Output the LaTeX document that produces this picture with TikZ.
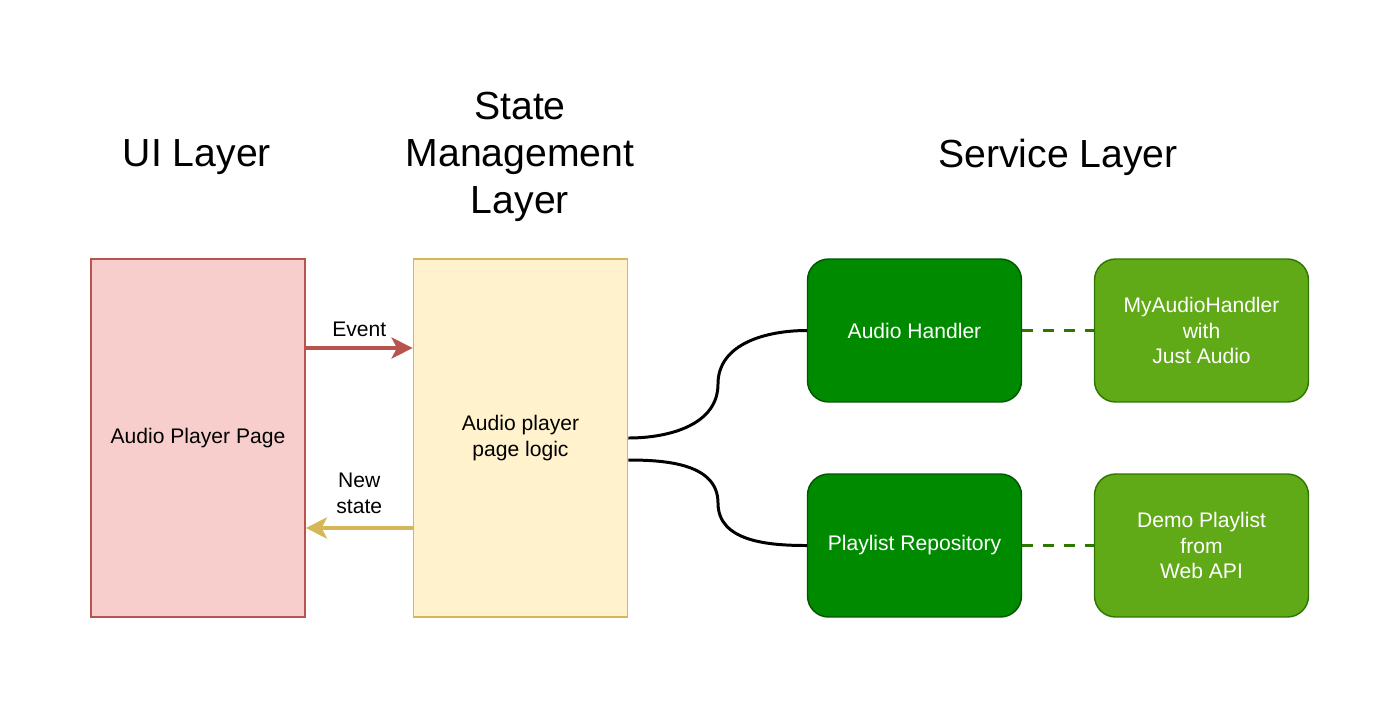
\documentclass[tikz,border=0pt]{standalone}
\usepackage{fontspec}
\setmainfont{Liberation Sans}
\usetikzlibrary{arrows.meta}
\definecolor{uifill}{HTML}{F8CECC}
\definecolor{uiline}{HTML}{B85450}
\definecolor{smfill}{HTML}{FFF2CC}
\definecolor{smline}{HTML}{D6B656}
\definecolor{svfill}{HTML}{008A00}
\definecolor{svline}{HTML}{005700}
\definecolor{impfill}{HTML}{60A917}
\definecolor{impline}{HTML}{2D7600}
\tikzset{
	layerbox/.style={draw, line width=1pt, minimum width=4.28cm, minimum height=7.16cm, align=center, font=\fontsize{12}{14.7}\selectfont},
	servicebox/.style={draw=svline, fill=svfill, text=white, rounded corners=0.42cm, line width=0.8pt, minimum width=4.28cm, minimum height=2.86cm, align=center, font=\fontsize{12}{14.7}\selectfont},
	implbox/.style={servicebox, draw=impline, fill=impfill},
	title/.style={align=center, font=\fontsize{22.3}{26.6}\selectfont},
	tag/.style={align=center, font=\fontsize{12}{14.7}\selectfont},
	flow/.style={-{Stealth[length=12pt,width=12pt,inset=3pt]}, line width=2pt},
	link/.style={line width=1.7pt}
}
\begin{document}
\begin{tikzpicture}[x=0.02cm, y=-0.02cm]
	\useasboundingbox (0,0) rectangle (1400,708);
	% layer titles
	\node[title] (uititle) at (197,157) {UI Layer};
	\node[title] (smtitle) at (520,157) {State\\Management\\Layer};
	\node[title] (svtitle) at (1058,157) {Service Layer};
	% boxes
	\node[layerbox, draw=uiline, fill=uifill] (page) at (198,438) {Audio Player Page};
	\node[layerbox, draw=smline, fill=smfill] (logic) at (520.5,438) {Audio player\\page logic};
	\node[servicebox] (handler) at (914.5,330.5) {Audio Handler};
	\node[implbox] (myhandler) at (1201.5,330.5) {MyAudioHandler\\with\\Just Audio};
	\node[servicebox] (repo) at (914.5,545.5) {Playlist Repository};
	\node[implbox] (demo) at (1201.5,545.5) {Demo Playlist\\from\\Web API};
	% event / state arrows
	\draw[flow, draw=uiline, fill=uiline] (page.east |- 0,348) -- (logic.west |- 0,348) node[tag, midway, above=2pt, text=black] (eventlbl) {Event};
	\draw[flow, draw=smline, fill=smline] (logic.west |- 0,528) -- (page.east |- 0,528) node[tag, midway, above=4pt, text=black] (statelbl) {New\\state};
	% connectors to the services
	\coordinate (logicup) at (logic.east |- 0,438);
	\coordinate (logicdown) at (logic.east |- 0,460);
	\coordinate (midup) at (718,384);
	\coordinate (middown) at (718,503);
	\draw[link] (logicup) to[out=0,in=-90] (midup) to[out=90,in=180] (handler.west);
	\draw[link] (logicdown) to[out=0,in=90] (middown) to[out=-90,in=180] (repo.west);
	\draw[link, dash pattern=on 6pt off 6pt, impline] (handler.east) -- (myhandler.west);
	\draw[link, dash pattern=on 6pt off 6pt, impline] (repo.east) -- (demo.west);
\end{tikzpicture}
\end{document}
